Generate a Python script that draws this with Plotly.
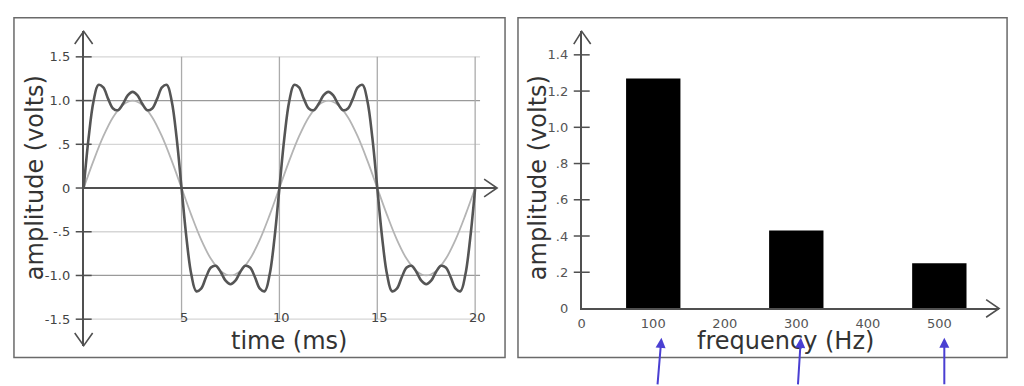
import plotly.graph_objects as go

W, H = 1024, 386

# ---------------- data ----------------
time_ms = [0, 0.25, 0.5, 0.75, 1, 1.25, 1.5, 1.75, 2, 2.25, 2.5, 2.75, 3, 3.25, 3.5, 3.75,
           4, 4.25, 4.5, 4.75, 5, 5.25, 5.5, 5.75, 6, 6.25, 6.5, 6.75, 7, 7.25, 7.5, 7.75,
           8, 8.25, 8.5, 8.75, 9, 9.25, 9.5, 9.75, 10, 10.25, 10.5, 10.75, 11, 11.25, 11.5,
           11.75, 12, 12.25, 12.5, 12.75, 13, 13.25, 13.5, 13.75, 14, 14.25, 14.5, 14.75, 15,
           15.25, 15.5, 15.75, 16, 16.25, 16.5, 16.75, 17, 17.25, 17.5, 17.75, 18, 18.25, 18.5,
           18.75, 19, 19.25, 19.5, 19.75, 20]
square_approx_v = [0, 0.57, 0.99, 1.18, 1.15, 1.02, 0.91, 0.89, 0.96, 1.06, 1.10, 1.06, 0.96, 0.89, 0.91, 1.02,
                   1.15, 1.18, 0.99, 0.57, 0, -0.57, -0.99, -1.18, -1.15, -1.02, -0.91, -0.89, -0.96, -1.06,
                   -1.10, -1.06, -0.96, -0.89, -0.91, -1.02, -1.15, -1.18, -0.99, -0.57, 0, 0.57, 0.99, 1.18,
                   1.15, 1.02, 0.91, 0.89, 0.96, 1.06, 1.10, 1.06, 0.96, 0.89, 0.91, 1.02, 1.15, 1.18, 0.99,
                   0.57, 0, -0.57, -0.99, -1.18, -1.15, -1.02, -0.91, -0.89, -0.96, -1.06, -1.10, -1.06, -0.96,
                   -0.89, -0.91, -1.02, -1.15, -1.18, -0.99, -0.57, 0]

sine_t_ms = [0, 0.5, 1, 1.5, 2, 2.5, 3, 3.5, 4, 4.5, 5, 5.5, 6, 6.5, 7, 7.5, 8, 8.5, 9, 9.5, 10,
             10.5, 11, 11.5, 12, 12.5, 13, 13.5, 14, 14.5, 15, 15.5, 16, 16.5, 17, 17.5, 18, 18.5,
             19, 19.5, 20]
sine_v = [0, 0.31, 0.59, 0.81, 0.95, 1.0, 0.95, 0.81, 0.59, 0.31, 0, -0.31, -0.59, -0.81, -0.95, -1.0,
          -0.95, -0.81, -0.59, -0.31, 0, 0.31, 0.59, 0.81, 0.95, 1.0, 0.95, 0.81, 0.59, 0.31, 0, -0.31,
          -0.59, -0.81, -0.95, -1.0, -0.95, -0.81, -0.59, -0.31, 0]

freq_hz = [100, 300, 500]
freq_amp_v = [1.27, 0.43, 0.25]

left_ytick_vals = [1.5, 1.0, 0.5, 0, -0.5, -1.0, -1.5]
left_ytick_text = ["1.5", "1.0", ".5", "0", "-.5", "-1.0", "-1.5"]
left_xtick_vals = [5, 10, 15, 20]
left_xtick_text = ["5", "10", "15", "20"]

right_ytick_vals = [0, 0.2, 0.4, 0.6, 0.8, 1.0, 1.2, 1.4]
right_ytick_text = ["0", ".2", ".4", ".6", ".8", "1.0", "1.2", "1.4"]
right_xtick_vals = [0, 100, 200, 300, 400, 500]
right_xtick_text = ["0", "100", "200", "300", "400", "500"]

left_xtitle = "time (ms)"
right_xtitle = "frequency (Hz)"
ytitle = "amplitude (volts)"

FONT = "DejaVu Sans"

# ---------------- geometry helpers ----------------
def fx(p):
    return p / W

def fy(p):
    return 1 - p / H

# left panel pixel mapping
L_X0, L_SX = 80.0, 19.65
L_Y0, L_SY = 192.0, 89.3
L_XPX = (80.0, 495.0)
L_YPX = (32.0, 353.0)
L_xrange = [(L_XPX[0] - L_X0) / L_SX, (L_XPX[1] - L_X0) / L_SX]
L_yrange = [(L_Y0 - L_YPX[1]) / L_SY, (L_Y0 - L_YPX[0]) / L_SY]

def lpy(v):
    return L_Y0 - v * L_SY

# right panel pixel mapping
R_X0, R_SX = 580.0, 0.718
R_Y0, R_SY = 315.0, 185.0
R_XPX = (580.0, 999.0)
R_YPX = (32.0, 315.0)
R_xrange = [0, (R_XPX[1] - R_X0) / R_SX]
R_yrange = [0, (R_Y0 - R_YPX[0]) / R_SY]

def rpy(v):
    return R_Y0 - v * R_SY

AX_COLOR = "#505050"

fig = go.Figure()

fig.add_trace(go.Scatter(x=sine_t_ms, y=sine_v, mode="lines",
                         line=dict(color="#b4b4b4", width=1.8, shape="spline"),
                         xaxis="x", yaxis="y", showlegend=False, hoverinfo="skip"))
fig.add_trace(go.Scatter(x=time_ms, y=square_approx_v, mode="lines",
                         line=dict(color="#555555", width=2.6, shape="spline", smoothing=1.0),
                         xaxis="x", yaxis="y", showlegend=False, hoverinfo="skip"))
fig.add_trace(go.Bar(x=freq_hz, y=freq_amp_v, width=76,
                     marker=dict(color="#000000", line=dict(width=0)),
                     xaxis="x2", yaxis="y2", showlegend=False, hoverinfo="skip"))

shapes = []

# panel borders
for (x0, y0, x1, y1) in [(10, 18, 503, 365), (516, 18, 1007, 365)]:
    shapes.append(dict(type="rect", xref="paper", yref="paper",
                       x0=fx(x0), x1=fx(x1), y0=fy(y1), y1=fy(y0),
                       line=dict(color="#6a6a6a", width=1.5), layer="above"))

# left gridlines (data refs)
for v in left_ytick_vals:
    if v == 0:
        continue
    col = "#9a9a9a" if abs(v) == 1.0 else "#d6d6d6"
    shapes.append(dict(type="line", xref="x", yref="y", x0=0, x1=20.25, y0=v, y1=v,
                       line=dict(color=col, width=1.3), layer="below"))
for t in left_xtick_vals:
    shapes.append(dict(type="line", xref="x", yref="y", x0=t, x1=t, y0=-1.5, y1=1.5,
                       line=dict(color="#ababab", width=1.3), layer="below"))

# left x axis line (through zero)
shapes.append(dict(type="line", xref="paper", yref="paper",
                   x0=fx(L_XPX[0]), x1=fx(L_XPX[1]), y0=fy(L_Y0), y1=fy(L_Y0),
                   line=dict(color=AX_COLOR, width=1.8), layer="above"))

# left y ticks (crossing)
for v in left_ytick_vals:
    shapes.append(dict(type="line", xref="paper", yref="paper",
                       x0=fx(72), x1=fx(88), y0=fy(lpy(v)), y1=fy(lpy(v)),
                       line=dict(color=AX_COLOR, width=1.5), layer="above"))
# right y ticks (crossing), none at zero
for v in right_ytick_vals:
    if v == 0:
        continue
    shapes.append(dict(type="line", xref="paper", yref="paper",
                       x0=fx(572), x1=fx(588), y0=fy(rpy(v)), y1=fy(rpy(v)),
                       line=dict(color=AX_COLOR, width=1.5), layer="above"))

def chevron(points):
    d = "M " + " L ".join(f"{fx(px)},{fy(py)}" for px, py in points)
    return dict(type="path", xref="paper", yref="paper", path=d,
                line=dict(color=AX_COLOR, width=1.6), layer="above")

# arrowheads
shapes.append(chevron([(71, 45), (80, 32), (89, 45)]))      # left up
shapes.append(chevron([(71, 340), (80, 353), (89, 340)]))   # left down
shapes.append(chevron([(482, 183), (495, 192), (482, 201)]))  # left right
shapes.append(chevron([(572, 45), (580, 32), (589, 45)]))   # right up
shapes.append(chevron([(986, 306), (999, 315), (986, 324)]))  # right right

annotations = []
# left x tick labels placed at the -1.5 level
for t, txt in zip(left_xtick_vals, left_xtick_text):
    annotations.append(dict(x=t, y=-1.5, xref="x", yref="y", text=txt, showarrow=False,
                            xanchor="center", yanchor="middle", xshift=2, yshift=2,
                            font=dict(family=FONT, size=13, color="#444444")))

# axis titles
annotations.append(dict(x=fx(286), y=fy(348), xref="paper", yref="paper", text=left_xtitle,
                        showarrow=False, xanchor="center", yanchor="middle",
                        font=dict(family=FONT, size=24, color="#333333")))
annotations.append(dict(x=fx(785), y=fy(348), xref="paper", yref="paper", text=right_xtitle,
                        showarrow=False, xanchor="center", yanchor="middle",
                        font=dict(family=FONT, size=24, color="#333333")))
for cx in (31, 536):
    annotations.append(dict(x=fx(cx), y=fy(181), xref="paper", yref="paper", text=ytitle,
                            showarrow=False, textangle=-90, xanchor="center", yanchor="middle",
                            font=dict(family=FONT, size=24, color="#333333")))

# hand-drawn blue arrows
for tipx, ax in [(660, -4), (800, -3), (944, 0)]:
    annotations.append(dict(x=fx(tipx), y=fy(345), xref="paper", yref="paper", text="",
                            showarrow=True, ax=ax, ay=48, arrowhead=2, arrowsize=1,
                            arrowwidth=2, arrowcolor="#4a3fd2", standoff=0))

fig.update_layout(
    width=W, height=H,
    margin=dict(l=0, r=0, t=0, b=0),
    paper_bgcolor="white", plot_bgcolor="rgba(0,0,0,0)",
    showlegend=False,
    font=dict(family=FONT),
    xaxis=dict(domain=[fx(L_XPX[0]), fx(L_XPX[1])], range=L_xrange, anchor="y",
               showgrid=False, zeroline=False, showticklabels=False, showline=False,
               ticks="", fixedrange=True),
    yaxis=dict(domain=[fy(L_YPX[1]), fy(L_YPX[0])], range=L_yrange, anchor="x",
               tickvals=left_ytick_vals, ticktext=left_ytick_text,
               ticks="outside", ticklen=9, tickcolor="rgba(0,0,0,0)",
               showline=True, linecolor=AX_COLOR, linewidth=1.8,
               showgrid=False, zeroline=False, fixedrange=True,
               tickfont=dict(family=FONT, size=13, color="#444444")),
    xaxis2=dict(domain=[fx(R_XPX[0]), fx(R_XPX[1])], range=R_xrange, anchor="y2",
                tickvals=right_xtick_vals, ticktext=right_xtick_text,
                ticks="outside", ticklen=2, tickcolor="rgba(0,0,0,0)",
                showline=True, linecolor=AX_COLOR, linewidth=1.8,
                showgrid=False, zeroline=False, fixedrange=True,
                tickfont=dict(family=FONT, size=13, color="#555555")),
    yaxis2=dict(domain=[fy(R_YPX[1]), fy(R_YPX[0])], range=R_yrange, anchor="x2",
                tickvals=right_ytick_vals, ticktext=right_ytick_text,
                ticks="outside", ticklen=9, tickcolor="rgba(0,0,0,0)",
                showline=True, linecolor=AX_COLOR, linewidth=1.8,
                showgrid=False, zeroline=False, fixedrange=True,
                tickfont=dict(family=FONT, size=13, color="#555555")),
    shapes=shapes,
    annotations=annotations,
)

fig.write_html(
    "out.html",
    config={"displayModeBar": False},
    post_script="document.body.style.margin='0px';document.body.style.padding='0px';",
)
